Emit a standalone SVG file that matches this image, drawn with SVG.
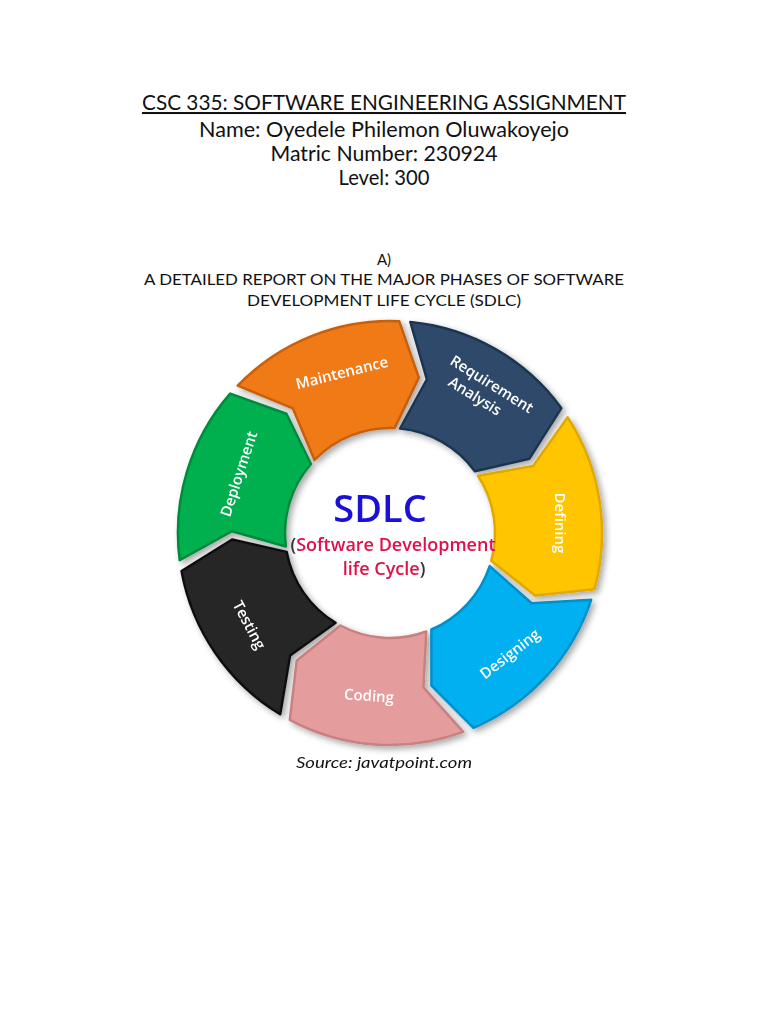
<svg xmlns="http://www.w3.org/2000/svg" width="768" height="1024" viewBox="0 0 768 1024">
<style>
.h{font-family:Lato,"Noto Sans",sans-serif;fill:#111;text-anchor:middle}
.seg{stroke-width:2.5;stroke-linejoin:round}
.lb{font-family:"Open Sans","Noto Sans",sans-serif;font-weight:600;fill:#fff;text-anchor:middle;font-size:15px}
</style>
<defs><filter id="sh" x="-10%" y="-10%" width="130%" height="130%"><feDropShadow dx="3" dy="3" stdDeviation="3" flood-color="#000" flood-opacity="0.35"/></filter></defs>
<rect width="768" height="1024" fill="#fff"/>
<text class="h" x="384" y="110" font-size="20.5" text-decoration="underline" textLength="484" lengthAdjust="spacingAndGlyphs">CSC 335: SOFTWARE ENGINEERING ASSIGNMENT</text>
<text class="h" x="384" y="137" font-size="20.5" textLength="370" lengthAdjust="spacingAndGlyphs">Name: Oyedele Philemon Oluwakoyejo</text>
<text class="h" x="384" y="161" font-size="20.5" textLength="227" lengthAdjust="spacingAndGlyphs">Matric Number: 230924</text>
<text class="h" x="384" y="185" font-size="20.5" textLength="91" lengthAdjust="spacingAndGlyphs">Level: 300</text>
<text class="h" x="384" y="265" font-size="15">A)</text>
<text class="h" x="384" y="285" font-size="15" textLength="480" lengthAdjust="spacingAndGlyphs">A DETAILED REPORT ON THE MAJOR PHASES OF SOFTWARE</text>
<text class="h" x="384" y="306" font-size="15" textLength="274" lengthAdjust="spacingAndGlyphs">DEVELOPMENT LIFE CYCLE (SDLC)</text>
<g filter="url(#sh)">
<g id="req"><path class="seg" fill="#2E4A6B" stroke="#1F3550" d="M410.3,322 A212,212 0 0 1 561.4,408.2 L529.4,458.7 L474.9,471.2 A105,105 0 0 0 400.1,428.5 L426.9,379.4 Z"/>
<text class="lb" transform="translate(487,392) rotate(32)"><tspan x="0" y="-4">Requirement</tspan><tspan x="-8" y="15">Analysis</tspan></text></g>
<g id="def"><path class="seg" fill="#FFC600" stroke="#E0A800" d="M567.6,417.3 A212,212 0 0 1 594.4,589.2 L535.1,595.6 L491.3,560.8 A105,105 0 0 0 478,475.7 L533.1,466 Z"/>
<text class="lb" transform="translate(560,523) rotate(90)" y="5">Defining</text></g>
<g id="des"><path class="seg" fill="#00B0F0" stroke="#0090C8" d="M591.2,599.8 A212,212 0 0 1 473.5,727.8 L431.4,685.5 L431.4,629.5 A105,105 0 0 0 489.7,566.1 L531.6,603.2 Z"/>
<text class="lb" transform="translate(510,654) rotate(-38)" y="5">Designing</text></g>
<g id="cod"><path class="seg" fill="#E59C9C" stroke="#C98080" d="M463.2,731.9 A212,212 0 0 1 289.8,719.8 L296.7,660.5 L340.4,625.5 A105,105 0 0 0 426.3,631.5 L423.4,687.4 Z"/>
<text class="lb" transform="translate(369,696) rotate(4)" y="5">Coding</text></g>
<g id="tes"><path class="seg" fill="#262626" stroke="#111" d="M280.2,714.3 A212,212 0 0 1 181.5,571.1 L232.1,539.5 L286.7,551.9 A105,105 0 0 0 335.6,622.8 L290.1,655.4 Z"/>
<text class="lb" transform="translate(249,625) rotate(62)" y="5">Testing</text></g>
<g id="dep"><path class="seg" fill="#00B050" stroke="#008A3C" d="M179.7,560.2 A212,212 0 0 1 230.2,393.6 L286.4,413.7 L310.9,464 A105,105 0 0 0 285.9,546.5 L232,531.2 Z"/>
<text class="lb" transform="translate(239,474) rotate(-72)" y="5">Deployment</text></g>
<g id="mai"><path class="seg" fill="#F07A18" stroke="#C85E08" d="M237.7,385.6 A212,212 0 0 1 399.2,321.2 L418.8,377.6 L394.6,428.1 A105,105 0 0 0 314.5,460 L292.9,408.4 Z"/>
<text class="lb" transform="translate(342,373) rotate(-14)" y="5">Maintenance</text></g>
</g>
<g id="center" font-family="'Open Sans','Noto Sans',sans-serif" text-anchor="middle">
<text x="380" y="522" font-size="38" font-weight="600" fill="#1A10D8">SDLC</text>
<text x="393" y="551" font-size="18" font-weight="600" fill="#E0104A"><tspan fill="#333">(</tspan>Software Development</text>
<text x="384" y="575" font-size="18" font-weight="600" fill="#E0104A">life Cycle<tspan fill="#333">)</tspan></text>
</g>
<text class="h" x="384" y="768" font-size="16" font-style="italic" textLength="176" lengthAdjust="spacingAndGlyphs">Source: javatpoint.com</text>
</svg>
